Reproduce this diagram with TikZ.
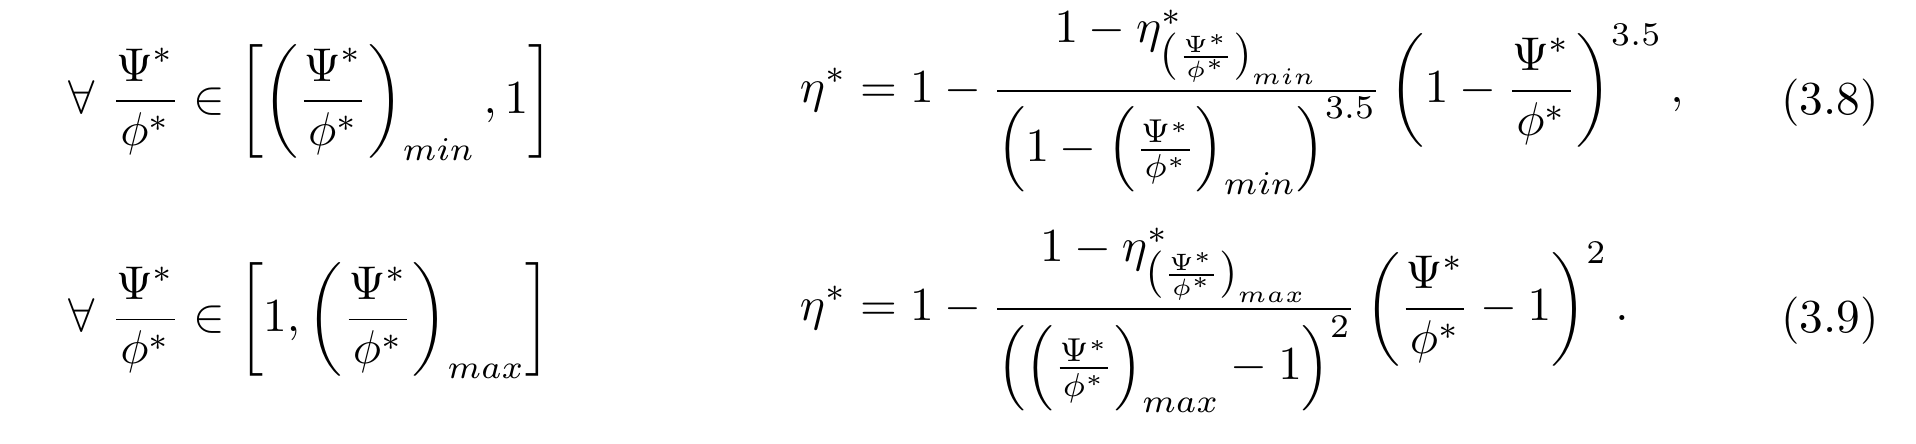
\documentclass[tikz,border=0pt]{standalone}
\usepackage{amsmath}
\begin{document}
\begin{tikzpicture}[x=1cm,y=1cm,eq/.style={inner sep=0pt,anchor=west}]
\useasboundingbox (0,0) rectangle (14.22,-3.29);
\newcommand{\rr}{\frac{\Psi^*}{\phi^*}}
\node[eq] (c1) at (0.5,-0.76) {$\displaystyle \forall\ \rr \in \left[\left(\rr\right)_{min},1\right]$};
\node[eq] (e1) at (5.93,-0.76) {$\displaystyle \eta^* \mathrel{=}{} 1-\frac{1-\eta^*_{\left(\rr\right)_{min}}}{\left(1-\left(\rr\right)_{min}\right)^{3.5}}\left(1-\rr\right)^{3.5},$};
\node[inner sep=0pt,anchor=east] (t1) at (13.95,-0.76) {(3.8)};
\node[eq] (c2) at (0.5,-2.38) {$\displaystyle \forall\ \rr \in \left[1,\left(\rr\right)_{max}\right]$};
\node[eq] (e2) at (5.93,-2.38) {$\displaystyle \eta^* \mathrel{=}{} 1-\frac{1-\eta^*_{\left(\rr\right)_{max}}}{\left(\left(\rr\right)_{max}-1\right)^{2}}\left(\rr-1\right)^{2}.$};
\node[inner sep=0pt,anchor=east] (t2) at (13.95,-2.38) {(3.9)};
\end{tikzpicture}
\end{document}
